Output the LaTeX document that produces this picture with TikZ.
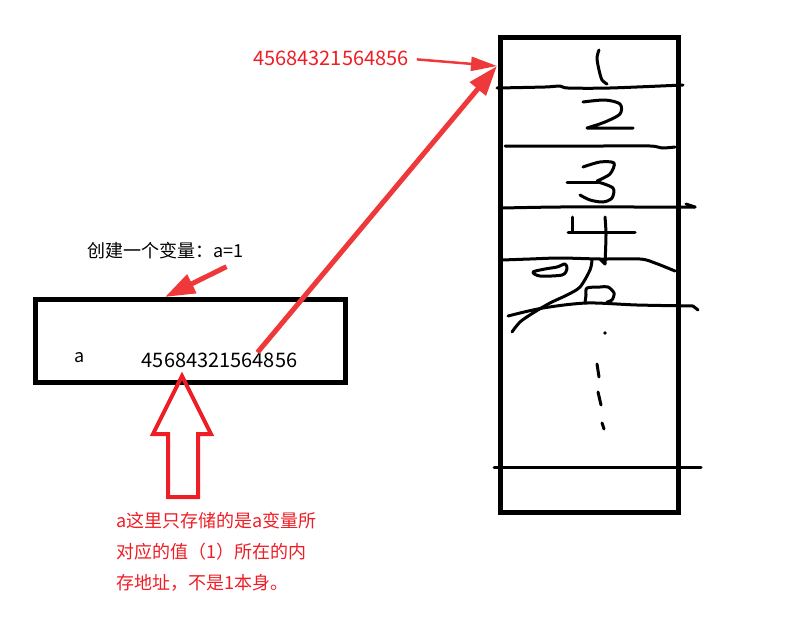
\documentclass[tikz,border=0pt]{standalone}
\usepackage{fontspec}
\setmainfont{Noto Sans CJK SC}
\usetikzlibrary{arrows.meta,positioning}
\definecolor{myred}{RGB}{237,30,38}
\definecolor{arrred}{RGB}{238,56,58}

\begin{document}
\begin{tikzpicture}[x=1pt,y=-1pt,
  txt/.style={font=\fontsize{18}{22}\selectfont,inner sep=0pt},
  addr/.style={font=\fontsize{20}{24}\selectfont,inner sep=0pt},
  ink/.style={line width=3pt,line cap=round,line join=round},
  thinarr/.style={arrred,line width=2.5pt,-{Triangle[length=26pt,width=14pt]}},
  thickarr/.style={arrred,line width=5pt,-{Triangle[length=30pt,width=20pt]}},
  hollow/.style={myred,line width=4pt,line join=miter}]
\useasboundingbox (0,0) rectangle (811,616);

% memory column
\node[draw,line width=5pt,inner sep=0pt,minimum width=178.5pt,minimum height=475pt] (mem) at (589.25,274.5) {};
\coordinate (cell1) at (497,66);

% cells
\draw[ink] plot[smooth] coordinates {(497,88) (545,87) (560,86) (568,88) (610,88) (683,85)};
\draw[ink] plot[smooth] coordinates {(505,146) (600,146) (650,146) (662,148) (675,147)};
\draw[ink] plot[smooth] coordinates {(502,208) (560,207) (640,207) (695,207)};
\draw[ink] (686,204) -- (695,207);
\draw[ink] plot[smooth] coordinates {(502,260) (530,259) (560,258) (600,259) (640,259) (655,263) (675,271)};
\draw[ink] plot[smooth] coordinates {(508,316) (543,308) (587,303) (637,305) (693,306)};
\draw[ink] (693,306) -- (698,310);
\draw[ink] (494,467) -- (701,467);

% handwritten values
\draw[ink] plot[smooth] coordinates {(599,50) (597,58) (599,70) (602,80) (607,84)};
\draw[ink] plot[smooth] coordinates {(583,102) (605,100) (620,104) (620,114) (605,122) (587,128)} -- (633,128);
\draw[ink] plot[smooth] coordinates {(583,167) (600,162) (614,163) (610,174) (597,181)};
\draw[ink] (567,182) -- (598,182);
\draw[ink] plot[smooth] coordinates {(598,182) (613,188) (612,198) (603,202) (590,200) (580,195)};
\draw[ink] (572,217) -- (572,232);
\draw[ink] (568,232) -- (635,232);
\draw[ink] plot[smooth] coordinates {(605,217) (606,235) (605,264)} -- (600,259);
\draw[ink] plot[smooth] coordinates {(592,260) (590,270) (580,287) (567,295) (550,303) (533,313) (520,322) (512,332)};
\draw[ink] plot[smooth cycle] coordinates {(533,272) (545,269) (557,267) (565,264) (567,269) (562,275) (540,276)};
\draw[ink] plot[smooth] coordinates {(585,303) (586,295) (587,288) (600,287) (608,287) (614,293) (612,300) (607,302)};
\fill (605,333) circle (1.8);
\draw[ink] (597,364) -- (599,377);
\draw[ink] (598,392) -- (601,405);
\draw[ink] (602,423) -- (604,429);

% variable a
\node[draw,line width=5pt,inner sep=0pt,minimum width=310pt,minimum height=83pt] (varbox) at (190.5,341) {};
\node[txt] (vname) at (80,357.5) {a};
\node[addr] (vaddr) at (219.5,360) {45684321564856};
\node[txt,anchor=base west] (mkvar) at (87,257) {创建一个变量：a=1};
\node[addr,text=myred,anchor=base west] (addrlbl) at (253,65.5) {45684321564856};

\draw[thinarr] ([xshift=8pt,yshift=-1pt]addrlbl.east) -- (cell1);
\draw[thickarr] ([xshift=38pt]vaddr.north) -- (cell1);
\draw[thickarr] ([xshift=-17pt,yshift=-8pt]mkvar.south east) -- ([xshift=-25.5pt]varbox.north);

% hollow arrow
\draw[hollow] (182,376) -- (211,434) -- (198,434) -- (198,497) -- (168,497) -- (168,434) -- (153,434) -- cycle;

\node[txt,text=myred,anchor=base west] (note1) at (116,527) {a这里只存储的是a变量所};
\node[txt,text=myred,anchor=base west] (note2) at (116,558) {对应的值（1）所在的内};
\node[txt,text=myred,anchor=base west] (note3) at (116,589) {存地址，不是1本身。};
\end{tikzpicture}
\end{document}
